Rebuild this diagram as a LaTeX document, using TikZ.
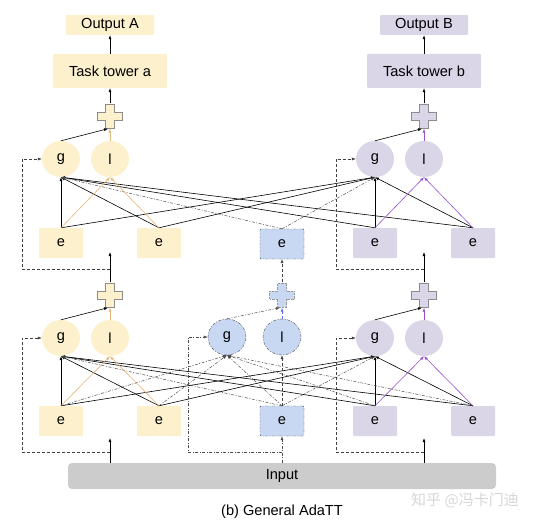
\documentclass[tikz,border=0pt]{standalone}
\usepackage{fontspec}
\setmainfont{Liberation Sans}
\newfontfamily\cjk{Noto Sans CJK SC}
\usetikzlibrary{arrows.meta,positioning,shapes.geometric}

\definecolor{towera}{RGB}{252,241,204}
\definecolor{towerb}{RGB}{218,214,232}
\definecolor{shared}{RGB}{201,216,242}
\definecolor{inputgray}{RGB}{204,204,204}
\definecolor{linka}{RGB}{228,182,120}
\definecolor{linkb}{RGB}{150,80,205}

\begin{document}
\begin{tikzpicture}[%
    x=1pt, y=-1pt,
    font=\fontsize{14.6pt}{16pt}\selectfont,
    >={Latex[length=4pt,width=3pt]},
    box/.style={rectangle, inner sep=0pt, rounded corners=1pt},
    outbox/.style={box, fill=#1, minimum width=88pt, minimum height=20pt},
    towerbox/.style={box, fill=#1, minimum width=114pt, minimum height=34pt},
    expertbox/.style={box, fill=#1, minimum width=44pt, minimum height=30pt},
    gatenode/.style={ellipse, inner sep=0pt, fill=#1, minimum width=38pt, minimum height=36pt},
    sharedline/.style={draw=black!70, dash pattern=on 3pt off 1.5pt on 1pt off 1.5pt},
    plusnode/.style={%
        minimum width=26pt, minimum height=25pt, inner sep=0pt, fill=white,
        path picture={\draw[#1, shift={(path picture bounding box.center)}]
            (-4.5pt,-12pt) -- (4.5pt,-12pt) -- (4.5pt,-4pt) -- (12.5pt,-4pt)
            -- (12.5pt,4pt) -- (4.5pt,4pt) -- (4.5pt,12pt) -- (-4.5pt,12pt)
            -- (-4.5pt,4pt) -- (-12.5pt,4pt) -- (-12.5pt,-4pt) -- (-4.5pt,-4pt) -- cycle;}},
    link/.style={->, line width=0.6pt},
    sharedlink/.style={->, line width=0.5pt, sharedline},
    feed/.style={->, line width=0.5pt, black!75, dash pattern=on 3pt off 2pt},
]

\useasboundingbox (0,0) rectangle (538,524);

% input and caption
\node[box, rounded corners=4pt, fill=inputgray, minimum width=428pt, minimum height=26pt] (input) at (282,476) {Input};
\node (caption) at (282,512) {(b) General AdaTT};
\node[text=black!16, font=\cjk\fontsize{15pt}{17pt}\selectfont] (mark) at (465,500) {知乎 @冯卡门迪};

% task towers
\foreach \t/\tl/\xg/\xl/\xr/\col in {A/a/61/110/159/towera, B/b/375/424/473/towerb}{
    \node[outbox=\col] (out\t) at (\xl,25) {Output \t};
    \node[towerbox=\col] (tow\t) at (\xl,71) {Task tower \tl};
    \node[plusnode={fill=\col, draw=black!45}] (p\t2) at (\xl,116) {};
    \node[gatenode=\col] (g\t2) at (\xg,159) {g};
    \node[gatenode=\col] (l\t2) at (\xl,159) {l};
    \node[expertbox=\col] (e\t21) at (\xg,243) {e};
    \node[expertbox=\col] (e\t22) at (\xr,243) {e};
    \node[plusnode={fill=\col, draw=black!45}] (p\t1) at (\xl,295) {};
    \node[gatenode=\col] (g\t1) at (\xg,338) {g};
    \node[gatenode=\col] (l\t1) at (\xl,338) {l};
    \node[expertbox=\col] (e\t11) at (\xg,421) {e};
    \node[expertbox=\col] (e\t12) at (\xr,421) {e};
    \coordinate (in\t2) at (\xl,252);
    \coordinate (in\t1) at (\xl,438);
    \coordinate (f\t2) at (\xl,269);
    \coordinate (f\t1) at (\xl,452);
}

% shared column
\node[expertbox=shared, sharedline] (eS2) at (282,244) {e};
\node[plusnode={fill=shared, draw=black!40, densely dotted}] (pS) at (282,295) {};
\node[gatenode=shared, sharedline] (gS) at (227,337) {g};
\node[gatenode=shared, sharedline] (lS) at (282,337) {l};
\node[expertbox=shared, sharedline] (eS1) at (282,421) {e};
\coordinate (fS) at (282,452);

% experts to gates
\foreach \k in {1,2}{
    \foreach \g in {A,B}{
        \foreach \e in {A\k1,A\k2,B\k1,B\k2}
            \draw[link] (e\e.north) -- (g\g\k.south);
        \draw[sharedlink] (eS\k.north) -- (g\g\k.south);
    }
    \foreach \i in {1,2}{
        \draw[link, linka] (eA\k\i.north) -- (lA\k.south);
        \draw[link, linkb] (eB\k\i.north) -- (lB\k.south);
    }
}
\foreach \e in {A11,A12,B11,B12,S1}
    \draw[sharedlink] (e\e.north) -- (gS.south);
\draw[feed] (eS1.north) -- (lS.south);

% gates to towers
\foreach \t/\col in {A/linka, B/linkb}{
    \foreach \k in {1,2}{
        \draw[link] (g\t\k.north) -- ([xshift=-2pt]p\t\k.south);
        \draw[link, \col] (l\t\k.north) -- (p\t\k.south);
        \draw[feed] (f\t\k) -| ([xshift=-20pt]g\t\k.west) -- (g\t\k.west);
    }
    \draw[link] (p\t1.north) -- (in\t2);
    \draw[link] (input.north -| in\t1) -- (in\t1);
    \draw[link] (p\t2.north) -- (tow\t.south);
    \draw[link] (tow\t.north) -- (out\t.south);
}
\draw[sharedlink] (gS.north) -- ([xshift=-2pt]pS.south);
\draw[feed, shared!50!blue] (lS.north) -- (pS.south);
\draw[feed] (pS.north) -- (eS2.south);
\draw[sharedlink] (input.north -| eS1) -- (eS1.south);
\draw[sharedlink] (fS) -| ([xshift=-20pt]gS.west) -- (gS.west);
\end{tikzpicture}
\end{document}
